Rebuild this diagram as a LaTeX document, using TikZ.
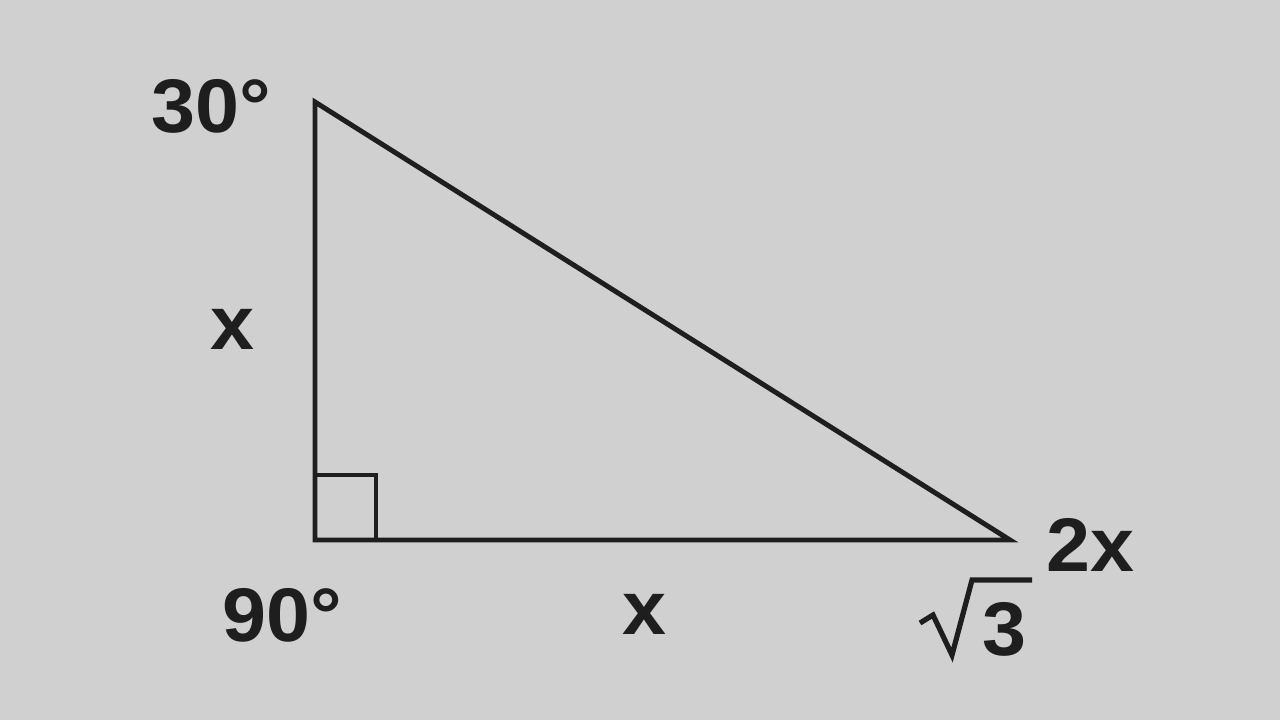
\documentclass[tikz,border=0pt]{standalone}
\usepackage{fontspec}
\setmainfont{Liberation Sans}
\definecolor{bg}{HTML}{D0D0D0}
\definecolor{ink}{HTML}{1E1E1E}
\begin{document}
\begin{tikzpicture}[x=0.75pt,y=-0.75pt,
  edge/.style={draw=ink,line width=3.7pt,line join=miter},
  lbl/.style={inner sep=0pt,anchor=base west,text=ink,font=\fontsize{57pt}{60pt}\selectfont\bfseries,xscale=1.04}]
\fill[bg] (0,0) rectangle (1280,720);
\useasboundingbox (0,0) rectangle (1280,720);
\coordinate (A) at (315,102);
\coordinate (C) at (315,540);
\coordinate (B) at (1010,540);
\draw[edge] (A) -- (C) -- (B) -- cycle;
\coordinate (R1) at (315,475);
\coordinate (R2) at (376,475);
\coordinate (R3) at (376,540);
\draw[edge] (R1) -- (R2) -- (R3);
\node[lbl] (t30) at (151,133) {30°};
\node[lbl] (xl) at (210,349) {x};
\node[lbl] (t90) at (222,641) {90°};
\node[lbl] (xb) at (622,634) {x};
\node[lbl] (t2x) at (1046,571) {2x};
\node[lbl] (t3) at (982,655) {3};
\coordinate (s1) at (920,623);
\coordinate (s2) at (933,615);
\coordinate (s3) at (952,655);
\coordinate (s4) at (972,580);
\coordinate (s5) at (1032,580);
\draw[draw=ink,line width=3.9pt,line join=miter] (s1) -- (s2) -- (s3) -- (s4) -- (s5);
\end{tikzpicture}
\end{document}
